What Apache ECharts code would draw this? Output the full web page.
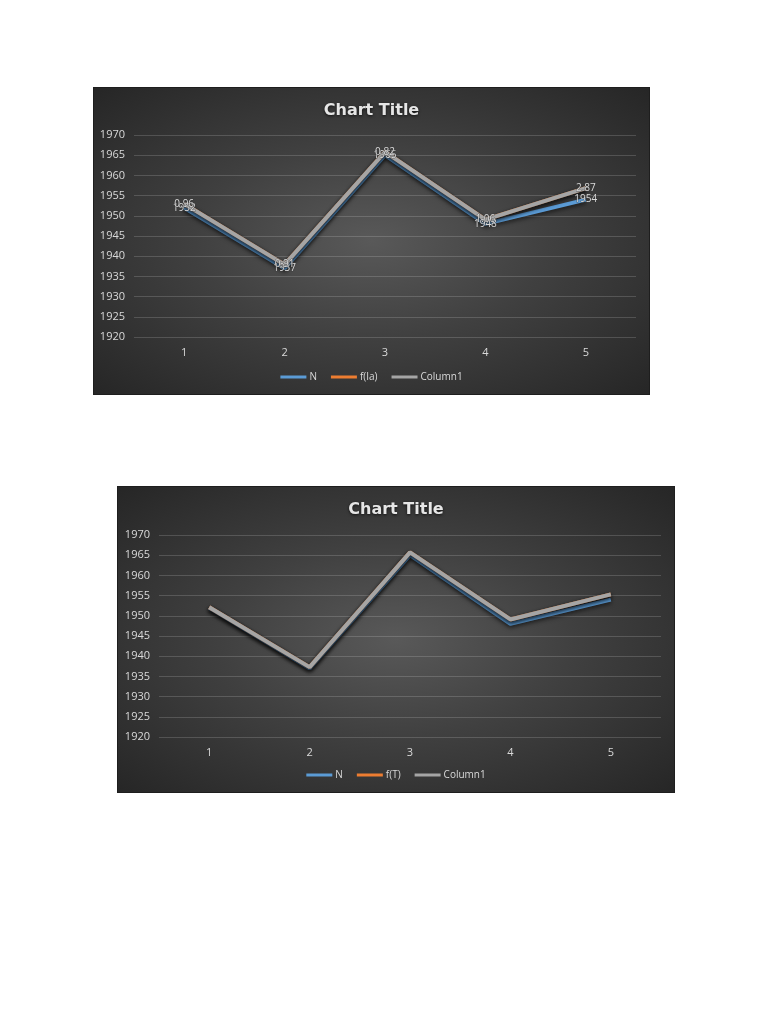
<!DOCTYPE html>
<html lang="en">
<head>
    <meta charset="UTF-8">
    <title>Chart Title</title>
    <script src="https://cdn.jsdelivr.net/npm/echarts@6/dist/echarts.min.js"></script>
    <style>
        body { margin: 0; background: #fff; }
        .box {
            position: absolute;
            background: radial-gradient(ellipse at 50% 50%, #595959 0%, #404040 45%, #262626 100%);
            border: 1px solid #1e1e1e;
            box-sizing: border-box;
        }
    </style>
</head>
<body>
    <div id="top" class="box" style="left:93px;top:87px;width:557px;height:308px;"></div>
    <div id="bottom" class="box" style="left:117px;top:486px;width:558px;height:307px;"></div>
    <script type="text/javascript">
        var categories = ['1', '2', '3', '4', '5'];
        var yearN = [1952, 1937, 1965, 1948, 1954];
        var fIa = [0.96, 0.91, 0.82, 1.06, 2.87];
        var fT = [0.1, 0.3, 0.7, 1.1, 1.3];
        var column1 = [0, 0, 0, 0, 0];
        var yTicks = { min: 1920, max: 1970, interval: 5 };

        var textColor = '#d9d9d9';
        var fontName = 'Open Sans';

        function lineSeries(name, data, color, showLabel) {
            return {
                name: name,
                type: 'line',
                stack: 'total',
                data: data,
                symbol: 'circle',
                symbolSize: 0,
                showSymbol: true,
                lineStyle: {
                    color: color, width: 4,
                    shadowColor: 'rgba(0,0,0,0.6)', shadowBlur: 4, shadowOffsetY: 2
                },
                itemStyle: { color: color },
                label: {
                    show: showLabel,
                    position: 'inside',
                    color: textColor,
                    fontSize: 10,
                    fontFamily: fontName,
                    textBorderColor: 'rgba(60,60,60,0.6)',
                    textBorderWidth: 1
                }
            };
        }

        function buildOption(fName, fData, withLabels, grid) {
            return {
                animation: false,
                title: {
                    text: 'Chart Title',
                    left: 'center',
                    top: 10,
                    textStyle: {
                        color: '#e6e6e6', fontSize: 16, fontWeight: 'bold',
                        fontFamily: 'DejaVu Sans',
                        textShadowColor: 'rgba(0,0,0,0.7)', textShadowBlur: 3, textShadowOffsetY: 1
                    }
                },
                legend: {
                    bottom: 7,
                    left: 'center',
                    icon: 'rect',
                    itemWidth: 26,
                    itemHeight: 3,
                    itemGap: 14,
                    textStyle: { color: textColor, fontSize: 10, fontFamily: fontName, padding: [0, 0, 0, -2] },
                    data: ['N', fName, 'Column1']
                },
                grid: grid,
                xAxis: {
                    type: 'category',
                    data: categories,
                    boundaryGap: true,
                    axisLine: { show: false },
                    axisTick: { show: false },
                    axisLabel: { color: textColor, fontSize: 11, fontFamily: fontName, margin: 10 }
                },
                yAxis: {
                    type: 'value',
                    min: yTicks.min,
                    max: yTicks.max,
                    interval: yTicks.interval,
                    axisLine: { show: false },
                    axisTick: { show: false },
                    axisLabel: {
                        color: textColor, fontSize: 11, fontFamily: fontName, margin: 9,
                        formatter: function (v) { return String(v); }
                    },
                    splitLine: { lineStyle: { color: 'rgba(255,255,255,0.16)', width: 1 } }
                },
                series: [
                    lineSeries('N', yearN, '#5b9bd5', withLabels),
                    lineSeries(fName, fData, '#ed7d31', withLabels),
                    lineSeries('Column1', column1, '#a5a5a5', false)
                ]
            };
        }

        var chartTop = echarts.init(document.getElementById('top'));
        chartTop.setOption(buildOption('f(Ia)', fIa, true, { left: 40, right: 13, top: 47, bottom: 57 }));

        var chartBottom = echarts.init(document.getElementById('bottom'));
        chartBottom.setOption(buildOption('f(T)', fT, false, { left: 41, right: 13, top: 48, bottom: 55 }));
    </script>
</body>
</html>
